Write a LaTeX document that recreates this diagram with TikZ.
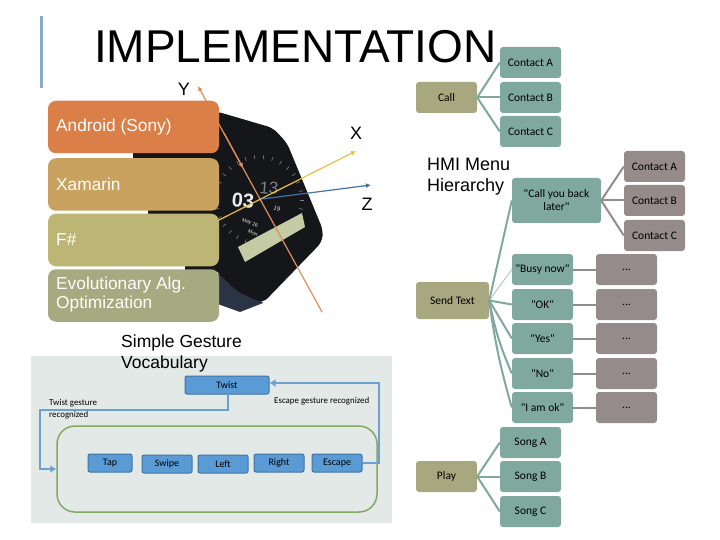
\documentclass[tikz,border=0pt]{standalone}
\usepackage{fontspec}
\setmainfont{Liberation Sans}
\newfontfamily\smallfont{Carlito}
\usepackage{tikz}
\usetikzlibrary{arrows.meta}

\definecolor{tealbox}{HTML}{7FA89E}
\definecolor{olivebox}{HTML}{A8A880}
\definecolor{greybox}{HTML}{968B8B}
\definecolor{bluebtn}{HTML}{5B9BD5}
\definecolor{blueedge}{HTML}{3F74A3}
\definecolor{bluelink}{HTML}{6CA0CF}
\definecolor{titlebar}{HTML}{8DA9C8}
\definecolor{caseblack}{HTML}{15161A}
\definecolor{bandblue}{HTML}{2B3445}
\definecolor{stripgreen}{HTML}{C5CBA5}
\definecolor{yaxis}{HTML}{E08E5C}
\definecolor{xaxis}{HTML}{E8C040}
\definecolor{zaxis}{HTML}{4472A8}

\tikzset{
    menubox/.style={draw=none, rounded corners=3pt, font=\smallfont\fontsize{11.5}{13}\selectfont, align=center, inner sep=0pt, text=black},
    tealitem/.style={menubox, fill=tealbox, minimum width=61pt, minimum height=31pt},
    greyitem/.style={menubox, fill=greybox, minimum width=61pt, minimum height=31pt},
    rootitem/.style={menubox, fill=olivebox, minimum width=61pt, minimum height=31pt},
    stackbox/.style={rounded corners=8pt, minimum width=171pt, minimum height=52.5pt, inner sep=0pt},
    stacktext/.style={anchor=west, font=\fontsize{17.3}{19}\selectfont, text=white, align=left, inner sep=0pt},
    gesturebtn/.style={draw=blueedge, line width=1pt, fill=bluebtn, rounded corners=2pt, minimum height=18pt, inner sep=0pt, font=\smallfont\fontsize{10}{12}\selectfont},
    notetext/.style={font=\smallfont\fontsize{8.9}{12}\selectfont, align=left, inner sep=0pt},
    axislabel/.style={font=\fontsize{18}{20}\selectfont, inner sep=0pt},
    headtext/.style={font=\fontsize{17.5}{20.5}\selectfont, align=left, inner sep=0pt},
    dialtext/.style={font=\fontsize{5}{6}\selectfont, text=white!80!gray, inner sep=0pt, rotate=-20},
    menulink/.style={line width=2pt, color=tealbox},
    greylink/.style={line width=2pt, color=greybox},
    gesturelink/.style={line width=2.5pt, color=bluelink, -{Latex[length=6pt,width=8pt]}},
    axisline/.style={line width=1.2pt, -{Latex[length=5pt,width=5pt]}},
}

\begin{document}
\begin{tikzpicture}[x=1pt, y=-1pt]
    \useasboundingbox (0,0) rectangle (720,540);

    % Title
    \fill[color=titlebar] (40,16) rectangle (43,88);
    \node[font=\fontsize{46}{50}\selectfont, anchor=base west, inner sep=0pt] (title) at (94,63) {IMPLEMENTATION};

    % Watch strap and case
    \fill[caseblack] (133,152) -- (225,152) -- (225,165) -- (133,160) -- cycle;
    \fill[caseblack] (148,208) -- (225,208) -- (225,218) -- (148,216) -- cycle;
    \fill[caseblack] (185,262) -- (225,262) -- (225,272) -- (185,272) -- cycle;
    \fill[bandblue] (215,272) -- (250,290) -- (263,303) -- (240,312) -- (215,303) -- cycle;
    \fill[caseblack, rounded corners=6pt] (215,111) -- (273,128) -- (287,143) -- (323,230) -- (322,242) -- (263,303) -- (238,292) -- (215,270) -- cycle;
    % Dial
    \foreach \a in {0,12,...,348}
        \draw[color=gray, line width=0.6pt] ({259+41*cos(\a)},{200+41*sin(\a)}) -- ({259+45*cos(\a)},{200+45*sin(\a)});
    \fill[color=stripgreen] (238,247) -- (302,213) -- (305,227) -- (245,262) -- cycle;
    \node[font=\bfseries\fontsize{20}{20}\selectfont, text=white!85!gray, inner sep=0pt, rotate=-5] (hours) at (243,201) {03};
    \node[font=\fontsize{17}{17}\selectfont, text=gray, inner sep=0pt, rotate=-5] (minutes) at (269,188) {13};
    \node[dialtext] (date) at (250,223) {May 26};
    \node[dialtext] (weekday) at (253,233) {Mon};
    \node[dialtext, font=\fontsize{6}{6}\selectfont] (day) at (277,209) {19};

    % Axes
    \coordinate (yfoot) at (322,312);
    \coordinate (ytip) at (198,86);
    \coordinate (yupper) at (224,133);
    \coordinate (ymid) at (243,168);
    \coordinate (xfoot) at (215,222);
    \coordinate (xtip) at (356,151);
    \coordinate (zfoot) at (262,199);
    \coordinate (ztip) at (371,185);
    \draw[axisline, color=yaxis] (yfoot) -- (ytip);
    \draw[axisline, color=yaxis] (yupper) -- (ymid);
    \draw[axisline, color=xaxis] (xfoot) -- (xtip);
    \draw[axisline, color=zaxis] (zfoot) -- (ztip);
    \node[axislabel] (ylabel) at (184,89) {Y};
    \node[axislabel] (xlabel) at (356,133) {X};
    \node[axislabel] (zlabel) at (367,204) {Z};

    % Left stack
    \node[stackbox, fill={rgb,255:red,219;green,127;blue,72}] (android) at (133.5,127) {};
    \node[stackbox, fill={rgb,255:red,201;green,162;blue,95}] (xamarin) at (133.5,184.5) {};
    \node[stackbox, fill={rgb,255:red,189;green,181;blue,115}] (fsharp) at (133.5,240) {};
    \node[stackbox, fill={rgb,255:red,165;green,170;blue,128}] (evolution) at (133.5,295.5) {};
    \node[stacktext] (androidtext) at (56,127) {Android (Sony)};
    \node[stacktext] (xamarintext) at (56,184) {Xamarin};
    \node[stacktext] (fsharptext) at (56,240) {F\#};
    \node[stacktext] (evolutiontext) at (56,295) {Evolutionary Alg.\\Optimization};

    % Gesture panel
    \fill[color={rgb,255:red,227;green,233;blue,231}] (31,356) rectangle (392,523);
    \node[headtext, anchor=north west] (gesturehead) at (121,335) {Simple Gesture\\Vocabulary};
    \node[draw={rgb,255:red,133;green,168;blue,100}, line width=1.5pt, rounded corners=18pt, minimum width=320pt, minimum height=86pt, inner sep=0pt] (group) at (217,469) {};
    \node[gesturebtn, minimum width=84pt] (twist) at (227,385) {Twist};
    \node[gesturebtn, minimum width=44pt] (tap) at (110,463) {Tap};
    \node[gesturebtn, minimum width=50pt] (swipe) at (167,464) {Swipe};
    \node[gesturebtn, minimum width=50pt] (left) at (223,464) {Left};
    \node[gesturebtn, minimum width=50pt] (right) at (279,463) {Right};
    \node[gesturebtn, minimum width=50pt] (escape) at (337,463) {Escape};
    \node[notetext, anchor=north west] (twistnote) at (49,399) {Twist gesture\\recognized};
    \node[notetext, anchor=west] (escapenote) at (274,401) {Escape gesture recognized};
    \coordinate (twistdown) at (228,410);
    \coordinate (twistleft) at (40,410);
    \coordinate (twistin) at (40,469);
    \coordinate (escapeout) at (379,463);
    \coordinate (escapeup) at (379,383);
    \draw[gesturelink] (twist.south -| twistdown) -- (twistdown) -- (twistleft) -- (twistin) -- (group.west);
    \draw[gesturelink] (escape.east) -- (escapeout) -- (escapeup) -- (twist.east |- escapeup);

    % Menu tree
    \node[rootitem] (call) at (446.5,97.5) {Call};
    \node[tealitem] (ca) at (530.5,62.5) {Contact A};
    \node[tealitem] (cb) at (530.5,97.5) {Contact B};
    \node[tealitem] (cc) at (530.5,131.5) {Contact C};
    \node[headtext, font=\fontsize{18}{20.5}\selectfont, anchor=north west] (hmihead) at (427,158) {HMI Menu\\Hierarchy};

    \node[rootitem, minimum width=73pt, minimum height=37pt] (send) at (452.5,300.5) {Send Text};
    \node[tealitem, minimum width=89pt, minimum height=45pt] (later) at (556.5,200.5) {"Call you back\\later"};
    \node[greyitem] (la) at (654.5,166.5) {Contact A};
    \node[greyitem] (lb) at (654.5,200.5) {Contact B};
    \node[greyitem] (lc) at (654.5,235.5) {Contact C};

    \node[tealitem] (busy) at (542.5,269.5) {"Busy now"};
    \node[tealitem] (ok) at (542.5,304.5) {"OK"};
    \node[tealitem] (yes) at (542.5,338.5) {"Yes"};
    \node[tealitem] (no) at (542.5,373.5) {"No"};
    \node[tealitem] (iamok) at (542.5,407.5) {"I am ok"};
    \node[greyitem] (busymore) at (626.5,269.5) {...};
    \node[greyitem] (okmore) at (626.5,304.5) {...};
    \node[greyitem] (yesmore) at (626.5,338.5) {...};
    \node[greyitem] (nomore) at (626.5,373.5) {...};
    \node[greyitem] (iamokmore) at (626.5,407.5) {...};

    \node[rootitem] (play) at (446.5,476.5) {Play};
    \node[tealitem] (songa) at (530.5,442.5) {Song A};
    \node[tealitem] (songb) at (530.5,476.5) {Song B};
    \node[tealitem] (songc) at (530.5,511.5) {Song C};

    % Menu links
    \draw[menulink] (call.east) -- (ca.west);
    \draw[menulink] (call.east) -- (cb.west);
    \draw[menulink] (call.east) -- (cc.west);

    \draw[menulink] (send.east) -- (later.west);
    \draw[menulink, line width=0.5pt] (send.east) -- (busy.west);
    \draw[menulink] (send.east) -- (ok.west);
    \draw[menulink] (send.east) -- (yes.west);
    \draw[menulink] (send.east) to[bend right=6] (no.west);
    \draw[menulink] (send.east) to[bend right=4] (iamok.west);

    \draw[greylink] (later.east) -- (la.west);
    \draw[greylink] (later.east) -- (lb.west);
    \draw[greylink] (later.east) -- (lc.west);
    \draw[greylink] (busy.east) -- (busymore.west);
    \draw[greylink] (ok.east) -- (okmore.west);
    \draw[greylink] (yes.east) -- (yesmore.west);
    \draw[greylink] (no.east) -- (nomore.west);
    \draw[greylink] (iamok.east) -- (iamokmore.west);

    \draw[menulink] (play.east) -- (songa.west);
    \draw[menulink] (play.east) -- (songb.west);
    \draw[menulink] (play.east) -- (songc.west);
\end{tikzpicture}
\end{document}
